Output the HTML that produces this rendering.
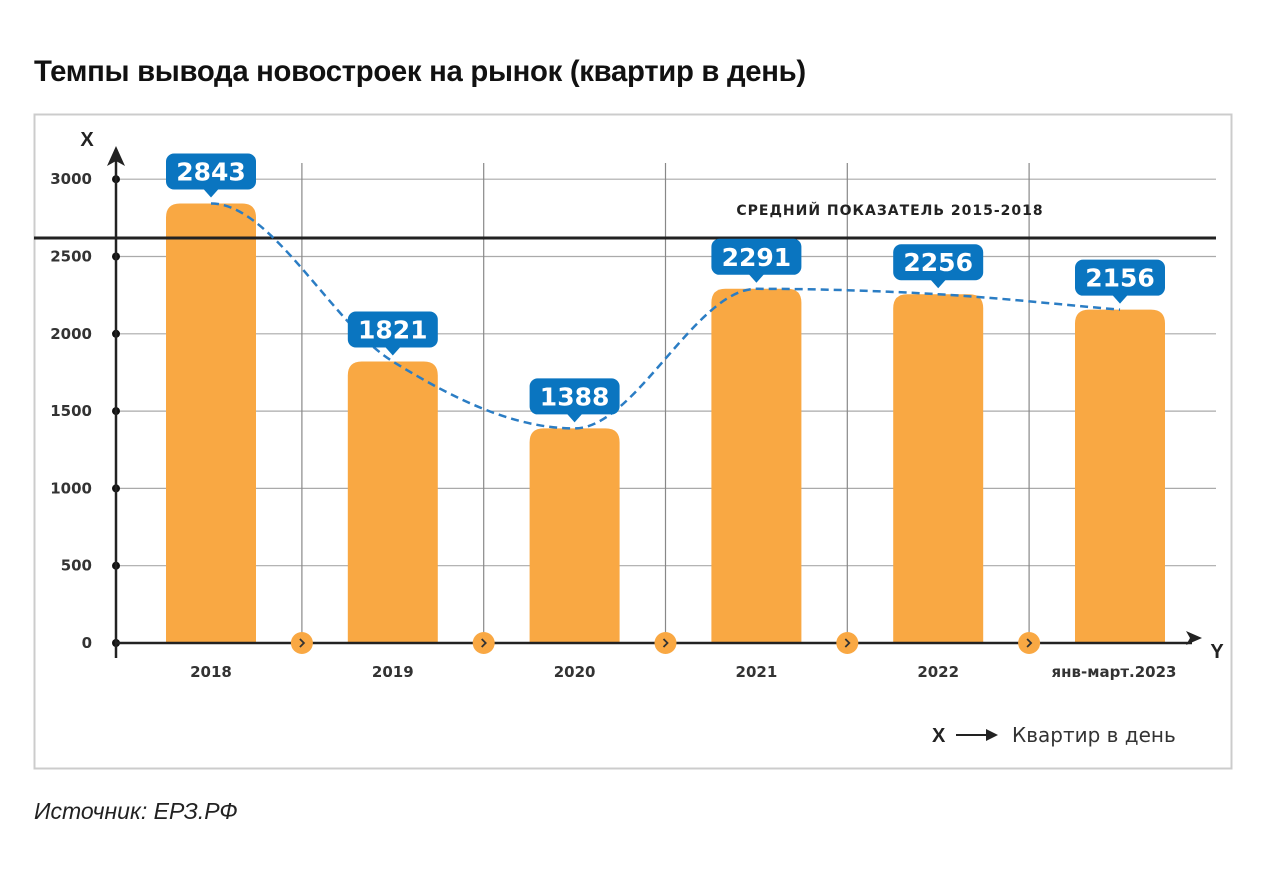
<!DOCTYPE html>
<html><head><meta charset="utf-8"><style>
body{margin:0;background:#fff;width:1274px;height:872px;overflow:hidden;font-family:"Liberation Sans","DejaVu Sans",sans-serif}
#title{position:absolute;left:34px;top:55px;font-size:29.3px;font-weight:bold;color:#111;letter-spacing:-0.3px}
#src{position:absolute;left:34px;top:798px;font-size:23px;font-style:italic;color:#222}
svg{position:absolute;left:0;top:0}
</style></head><body>
<div id="title">Темпы вывода новостроек на рынок (квартир в день)</div>
<svg id="chart" width="1274" height="872">
<rect x="34.5" y="114.5" width="1197" height="654" fill="#fff" stroke="#ccc" stroke-width="2"/>
<g id="grid"></g><g id="bars"></g><g id="axes"></g><g id="labels"></g>
</svg>
<div id="src">Источник: ЕРЗ.РФ</div>
<script>
const categories=["2018","2019","2020","2021","2022","янв-март.2023"];
const values=[2843,1821,1388,2291,2256,2156];
const yTicks=[0,500,1000,1500,2000,2500,3000];
const average=[2620];
const NS="http://www.w3.org/2000/svg";
const y0=643,pxPer=0.1546;
const y=v=>y0-v*pxPer;
const x=i=>211+i*181.8;
function mk(p,t,a){const e=document.createElementNS(NS,t);for(const k in a)e.setAttribute(k,a[k]);p.appendChild(e);return e;}
const G=document.getElementById('grid'),B=document.getElementById('bars'),A=document.getElementById('axes'),L=document.getElementById('labels');
yTicks.forEach(t=>{if(t>0){const l=mk(G,'line',{x1:116,x2:1216,y1:y(t),y2:y(t),stroke:'#aaa','stroke-width':1.2});
}
const tx=mk(A,'text',{x:92,y:y(t)+5,'text-anchor':'end','font-size':15,'font-weight':'bold',fill:'#333','font-family':'DejaVu Sans, sans-serif'});tx.textContent=t;

const d=mk(A,'circle',{cx:116,cy:y(t),r:4,fill:'#111'});});
for(let i=0;i<categories.length-1;i++){const gx=(x(i)+x(i+1))/2;const l=mk(G,'line',{x1:gx,x2:gx,y1:163,y2:643,stroke:'#888','stroke-width':1.2});
}
categories.forEach((c,i)=>{const top=y(values[i]);
const r=mk(B,'path',{d:`M${x(i)-45},${y0} V${top+14} Q${x(i)-45},${top} ${x(i)-31},${top} H${x(i)+31} Q${x(i)+45},${top} ${x(i)+45},${top+14} V${y0} Z`,fill:'#f9a843'});

const t=mk(A,'text',{x:x(i)+(i==5?-6:0),y:677,'text-anchor':'middle','font-size':15,'font-weight':'bold',fill:'#333','font-family':'DejaVu Sans, sans-serif'});t.textContent=c;
});
const av=mk(A,'line',{x1:34,x2:1216,y1:y(average[0]),y2:y(average[0]),stroke:'#222','stroke-width':3});

const at=mk(A,'text',{x:890,y:y(average[0])-23,'text-anchor':'middle','font-size':14,'font-weight':'bold',fill:'#222','letter-spacing':'1','font-family':'DejaVu Sans, sans-serif'});at.textContent="СРЕДНИЙ ПОКАЗАТЕЛЬ 2015-2018";

const xa=mk(A,'line',{x1:116,x2:1192,y1:y0,y2:y0,stroke:'#222','stroke-width':2.5});
mk(A,'path',{d:'M1202,638 L1186,631 L1190,638 L1186,645 Z',fill:'#222'});
const ya=mk(A,'line',{x1:116,x2:116,y1:160,y2:658,stroke:'#222','stroke-width':2.5});
mk(A,'path',{d:'M116,146 L107,166 L116,161 L125,166 Z',fill:'#222'});
const yx=mk(A,'text',{x:87,y:146,'text-anchor':'middle','font-size':20,'font-weight':'bold',fill:'#222'});yx.textContent='X';
const xy=mk(A,'text',{x:1217,y:658,'text-anchor':'middle','font-size':20,'font-weight':'bold',fill:'#222'});xy.textContent='Y';
for(let i=0;i<categories.length-1;i++){const gx=(x(i)+x(i+1))/2;
const c=mk(A,'circle',{cx:gx,cy:y0,r:11,fill:'#f9a843'});
mk(A,'path',{d:`M${gx-2},${y0-4} L${gx+2},${y0} L${gx-2},${y0+4}`,stroke:'#333','stroke-width':1.8,fill:'none'});}
// monotone cubic curve
const pts=values.map((v,i)=>[x(i),y(v)]);const n=pts.length;
const dl=[];for(let i=0;i<n-1;i++)dl.push((pts[i+1][1]-pts[i][1])/(pts[i+1][0]-pts[i][0]));
const m=[];for(let i=0;i<n;i++){if(i==0)m.push(0);else if(i==n-1)m.push(dl[n-2]);else m.push(dl[i-1]*dl[i]<=0?0:(dl[i-1]+dl[i])/2);}
let d=`M${pts[0][0]},${pts[0][1]}`;
for(let i=0;i<n-1;i++){const h=(pts[i+1][0]-pts[i][0])/3;
d+=` C${pts[i][0]+h},${pts[i][1]+m[i]*h} ${pts[i+1][0]-h},${pts[i+1][1]-m[i+1]*h} ${pts[i+1][0]},${pts[i+1][1]}`;}
const cv=mk(L,'path',{d:d,fill:'none',stroke:'#2b7dc4','stroke-width':2.5,'stroke-dasharray':'8 5'});
values.forEach((v,i)=>{const top=y(v),bx=x(i),bb=top-14;
const g=mk(L,'g',{});
mk(g,'rect',{x:bx-45,y:bb-36,width:90,height:36,rx:8,fill:'#0a75c0'});
mk(g,'path',{d:`M${bx-8},${bb-1} L${bx},${bb+8} L${bx+8},${bb-1} Z`,fill:'#0a75c0'});
const t=mk(g,'text',{x:bx,y:bb-9,'text-anchor':'middle','font-size':25,'font-weight':'bold',fill:'#fff','font-family':'DejaVu Sans, sans-serif'});t.textContent=v;});
const lg=mk(A,'g',{});
const lx=mk(lg,'text',{x:932,y:742,'font-size':20,'font-weight':'bold',fill:'#222'});lx.textContent='X';
mk(lg,'line',{x1:956,x2:990,y1:735,y2:735,stroke:'#222','stroke-width':2});
mk(lg,'path',{d:'M998,735 L986,729 L986,741 Z',fill:'#222'});
const lt=mk(lg,'text',{x:1012,y:742,'font-size':20,fill:'#333','font-family':'DejaVu Sans, sans-serif'});lt.textContent='Квартир в день';
</script>
</body></html>
